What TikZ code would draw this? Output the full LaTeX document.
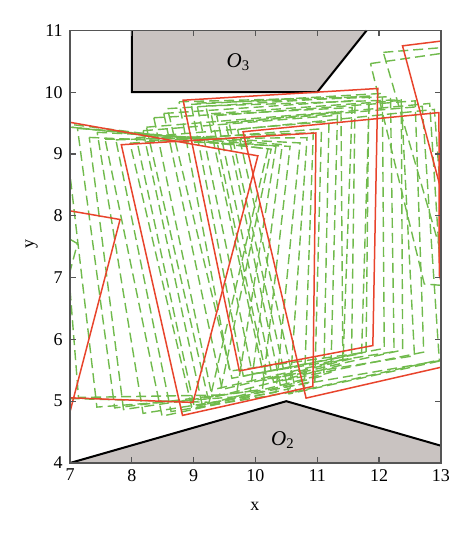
\documentclass[tikz,border=0pt]{standalone}
\usepackage{fontspec}
\setmainfont{Liberation Serif}
\usetikzlibrary{calc}
\definecolor{obst}{RGB}{201,195,193}
\definecolor{grn}{RGB}{112,186,76}
\definecolor{rd}{RGB}{232,68,44}
\definecolor{axc}{RGB}{85,85,85}
\tikzset{
  obsline/.style={black,line width=2pt,line join=miter},
  gpath/.style={grn,line width=1.4pt,dash pattern=on 10pt off 5pt},
  rpath/.style={rd,line width=1.5pt,line join=miter},
  frameline/.style={axc,line width=1.6pt},
  tickline/.style={axc,line width=1.3pt},
  lbl/.style={inner sep=1pt},
}
\begin{document}
\begin{tikzpicture}[x=61.8pt,y=61.8pt,font=\fontsize{18}{20}\selectfont]
\useasboundingbox (5.867,2.851) rectangle (13.537,11.492);
\pgfmathsetseed{7}
% obstacles
\fill[obst] (8,11) -- (8,10) -- (11,10) -- (11.8,11) -- cycle;
\fill[obst] (7,4) -- (10.5,5) -- (13,4.28) -- (13,4) -- cycle;
\draw[obsline] (8,11) -- (8,10) -- (11,10) -- (11.8,11);
\draw[obsline] (7,4) -- (10.5,5) -- (13,4.28);
\node[lbl,font=\fontsize{21}{23}\selectfont] (o3) at (9.72,10.48) {\textit{O}\textsubscript{3}};
\node[lbl,font=\fontsize{21}{23}\selectfont] (o2) at (10.44,4.37) {\textit{O}\textsubscript{2}};
% key frames (TL, TR, BR, BL)
\coordinate (K2-tl) at (6.4,9.62);  \coordinate (K2-tr) at (10.04,8.97);
\coordinate (K2-br) at (8.99,4.98); \coordinate (K2-bl) at (6.6,5.07);
\coordinate (K3-tl) at (7.83,9.15); \coordinate (K3-tr) at (10.98,9.34);
\coordinate (K3-br) at (10.93,5.24);\coordinate (K3-bl) at (8.82,4.77);
\coordinate (K4-tl) at (8.83,9.87); \coordinate (K4-tr) at (11.98,10.06);
\coordinate (K4-br) at (11.9,5.9);  \coordinate (K4-bl) at (9.74,5.49);
\coordinate (K5-tl) at (9.8,9.36);  \coordinate (K5-tr) at (12.97,9.67);
\coordinate (K5-br) at (13.4,5.64); \coordinate (K5-bl) at (10.82,5.05);
\coordinate (K6-tl) at (12.38,10.75);\coordinate (K6-tr) at (14.4,11.0);
\coordinate (K6-br) at (14.9,7.0);  \coordinate (K6-bl) at (13.25,7.5);
\begin{scope}
\clip (7,4) rectangle (13,11);
% green intermediate frames
\foreach \a/\b/\tl in {K2/K3/{0.12,0.24,0.36,0.48,0.6,0.72,0.84,0.93},
                       K3/K4/{0.1,0.2,0.32,0.44,0.56,0.68,0.8,0.9},
                       K4/K5/{0.1,0.2,0.32,0.44,0.56,0.68,0.8,0.9},
                       K5/K6/{0.78,0.9}} {
  \foreach \t in \tl {
    \path ($(\a-tl)!\t!(\b-tl)+({0.07*rand},{0.07*rand})$) coordinate (g1)
          ($(\a-tr)!\t!(\b-tr)+({0.07*rand},{0.07*rand})$) coordinate (g2)
          ($(\a-br)!\t!(\b-br)+({0.07*rand},{0.07*rand})$) coordinate (g3)
          ($(\a-bl)!\t!(\b-bl)+({0.07*rand},{0.07*rand})$) coordinate (g4);
    \draw[gpath] (g1) -- (g2) -- (g3) -- (g4) -- cycle;
  }
}
\draw[gpath] (7,7.62) -- (7.12,7.55) -- (7,7.1);
% red frames
\draw[rpath] (7,8.08) -- (7.81,7.94) -- (7,4.83);
\draw[rpath] (K2-tl) -- (K2-tr) -- (K2-br) -- (K2-bl) -- cycle;
\draw[rpath] (K3-tl) -- (K3-tr) -- (K3-br) -- (K3-bl) -- cycle;
\draw[rpath] (K4-tl) -- (K4-tr) -- (K4-br) -- (K4-bl) -- cycle;
\draw[rpath] (K5-tl) -- (K5-tr) -- (12.975,7.04) -- (K5-br) -- (K5-bl) -- cycle;
\draw[rpath] (K6-tl) -- (K6-tr) -- (K6-br) -- (K6-bl) -- cycle;
\end{scope}
% axes frame and ticks
\draw[frameline] (7,4) rectangle (13,11);
\foreach \x in {7,...,13} {
  \draw[tickline] (\x,4) -- (\x,4.09);
  \draw[tickline] (\x,11) -- (\x,10.91);
  \node[lbl,anchor=north] (xl\x) at (\x,3.92) {\x};
}
\foreach \y in {4,...,11} {
  \draw[tickline] (7,\y) -- (7.09,\y);
  \draw[tickline] (13,\y) -- (12.91,\y);
  \node[lbl,anchor=east] (yl\y) at (6.9,\y) {\y};
}
\node[lbl] (xlab) at (9.99,3.3) {x};
\node[lbl,rotate=90] (ylab) at (6.38,7.55) {y};
\end{tikzpicture}
\end{document}
